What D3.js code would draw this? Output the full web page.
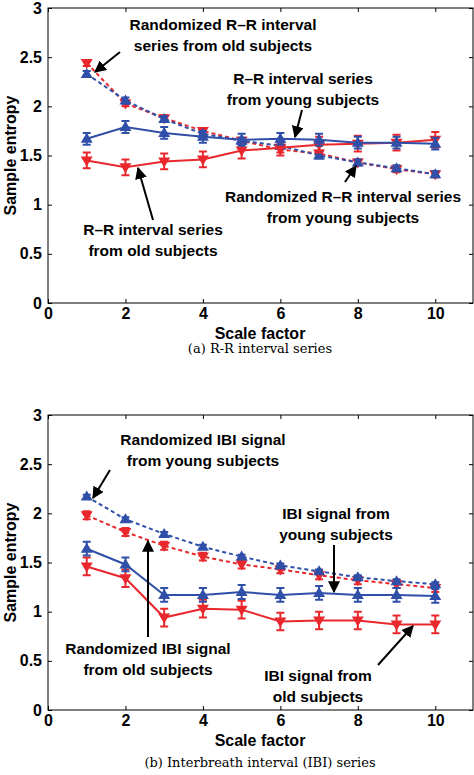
<!DOCTYPE html><html><head><meta charset="utf-8">
<script src="https://cdn.jsdelivr.net/npm/d3@7"></script>
<style>body{margin:0;background:#fff}</style></head><body>
<svg id="c" width="474" height="775"></svg>
<script>
const scales=[1,2,3,4,5,6,7,8,9,10];
const xTicks=[0,2,4,6,8,10];
const yTicks=[0,0.5,1,1.5,2,2.5,3];
// Panel (a)
const rrOld=[1.45,1.38,1.44,1.46,1.55,1.58,1.61,1.62,1.63,1.66];
const rrYoung=[1.67,1.79,1.73,1.69,1.66,1.67,1.66,1.63,1.63,1.62];
const rrRandOld=[2.44,2.03,1.88,1.75,1.65,1.56,1.52,1.43,1.36,1.31];
const rrRandYoung=[2.33,2.06,1.87,1.72,1.65,1.60,1.50,1.43,1.37,1.31];
// Panel (b)
const ibiOld=[1.46,1.34,0.94,1.03,1.02,0.90,0.91,0.91,0.87,0.87];
const ibiYoung=[1.64,1.48,1.17,1.17,1.20,1.17,1.19,1.17,1.17,1.16];
const ibiRandOld=[1.98,1.81,1.67,1.56,1.48,1.43,1.37,1.32,1.28,1.24];
const ibiRandYoung=[2.17,1.94,1.79,1.66,1.56,1.47,1.41,1.35,1.31,1.28];
const RED="#e8282c",BLUE="#2f4fa8";
const svg=d3.select("#c");
svg.append("defs").append("marker").attr("id","ah").attr("viewBox","0 0 10 10").attr("refX",9).attr("refY",5)
 .attr("markerWidth",6).attr("markerHeight",6).attr("orient","auto")
 .append("path").attr("d","M0,0L10,5L0,10z").attr("fill","#000");
const F="Liberation Sans, Arial, sans-serif";
function panel(top,bottom,series,notes,caption,capY){
 const x=d3.scaleLinear().domain([0,11]).range([48,474]);
 const y=d3.scaleLinear().domain([0,3]).range([bottom,top]);
 const g=svg.append("g");
 g.append("rect").attr("x",48).attr("y",top).attr("width",425).attr("height",bottom-top).attr("fill","none").attr("stroke","#000");
 const xa=g.append("g").attr("transform",`translate(0,${bottom})`).call(d3.axisBottom(x).tickValues(xTicks).tickSize(-4).tickPadding(5));
 const xt=g.append("g").attr("transform",`translate(0,${top})`).call(d3.axisTop(x).tickValues(xTicks).tickSize(-4).tickFormat(""));
 const ya=g.append("g").attr("transform",`translate(48,0)`).call(d3.axisLeft(y).tickValues(yTicks).tickSize(-4).tickPadding(6).tickFormat(d3.format("")));
 const yr=g.append("g").attr("transform",`translate(473,0)`).call(d3.axisRight(y).tickValues(yTicks).tickSize(-4).tickFormat(""));
 [xa,xt,ya,yr].forEach(a=>{a.select(".domain").remove();a.selectAll("text").attr("font-family",F).attr("font-weight","bold").attr("font-size",16).attr("fill","#000");});
 g.append("text").attr("x",260).attr("y",bottom+36).attr("text-anchor","middle").attr("font-family",F).attr("font-weight","bold").attr("font-size",16).text("Scale factor");
 g.append("text").attr("transform",`translate(16,${(top+bottom)/2}) rotate(-90)`).attr("text-anchor","middle").attr("font-family",F).attr("font-weight","bold").attr("font-size",16).text("Sample entropy");
 series.forEach(s=>{
  const line=d3.line().x((d,i)=>x(scales[i])).y(d=>y(d));
  g.append("path").attr("d",line(s.v)).attr("fill","none").attr("stroke",s.c).attr("stroke-width",2).attr("stroke-dasharray",s.dash?"4,3":null);
  s.v.forEach((d,i)=>{
   const cx=x(scales[i]);
   g.append("path").attr("d",`M${cx},${y(d-s.e)}V${y(d+s.e)}M${cx-4},${y(d-s.e)}H${cx+4}M${cx-4},${y(d+s.e)}H${cx+4}`).attr("stroke",s.c).attr("stroke-width",2);
   const cy=y(d);
   const p=s.up?`M${cx},${cy-6}L${cx+6},${cy+4}L${cx-6},${cy+4}Z`:`M${cx},${cy+6}L${cx+6},${cy-4}L${cx-6},${cy-4}Z`;
   g.append("path").attr("d",p).attr("fill",s.c);
  });
 });
 notes.forEach(n=>{
  const t=g.append("text").attr("text-anchor","middle").attr("font-family",F).attr("font-weight","bold").attr("font-size",15.5);
  n.t.forEach((l,i)=>t.append("tspan").attr("x",n.x).attr("y",n.y+i*21).text(l));
  g.append("line").attr("x1",n.a[0]).attr("y1",n.a[1]).attr("x2",n.a[2]).attr("y2",n.a[3]).attr("stroke","#000").attr("stroke-width",2).attr("marker-end","url(#ah)");
 });
 svg.append("text").attr("x",260).attr("y",capY).attr("text-anchor","middle").attr("font-family","DejaVu Serif, serif").attr("font-size",13).text(caption);
}
panel(8,303,[
 {v:rrRandOld,c:RED,dash:1,e:0.03,up:0},{v:rrRandYoung,c:BLUE,dash:1,e:0.03,up:1},
 {v:rrOld,c:RED,e:0.08,up:0},{v:rrYoung,c:BLUE,e:0.06,up:1}],
 [{t:["Randomized R\u2013R interval","series from old subjects"],x:223,y:30,a:[120,52,95,72]},
  {t:["R\u2013R interval series","from young subjects"],x:303,y:84,a:[302,110,295,137]},
  {t:["Randomized R\u2013R interval series","from young subjects"],x:343,y:202,a:[345,182,356,166]},
  {t:["R\u2013R interval series","from old subjects"],x:153,y:235,a:[153,220,138,168]}],
 "(a) R-R interval series",353);
panel(415,710,[
 {v:ibiRandOld,c:RED,dash:1,e:0.04,up:0},{v:ibiRandYoung,c:BLUE,dash:1,e:0.02,up:1},
 {v:ibiOld,c:RED,e:0.09,up:0},{v:ibiYoung,c:BLUE,e:0.07,up:1}],
 [{t:["Randomized IBI signal","from young subjects"],x:203,y:445,a:[110,470,93,498]},
  {t:["IBI signal from","young subjects"],x:336,y:519,a:[334,545,334,592]},
  {t:["Randomized IBI signal","from old subjects"],x:148,y:654,a:[148,637,148,541]},
  {t:["IBI signal from","old subjects"],x:318,y:681,a:[378,665,413,626]}],
 "(b) Interbreath interval (IBI) series",767);
</script></body></html>
